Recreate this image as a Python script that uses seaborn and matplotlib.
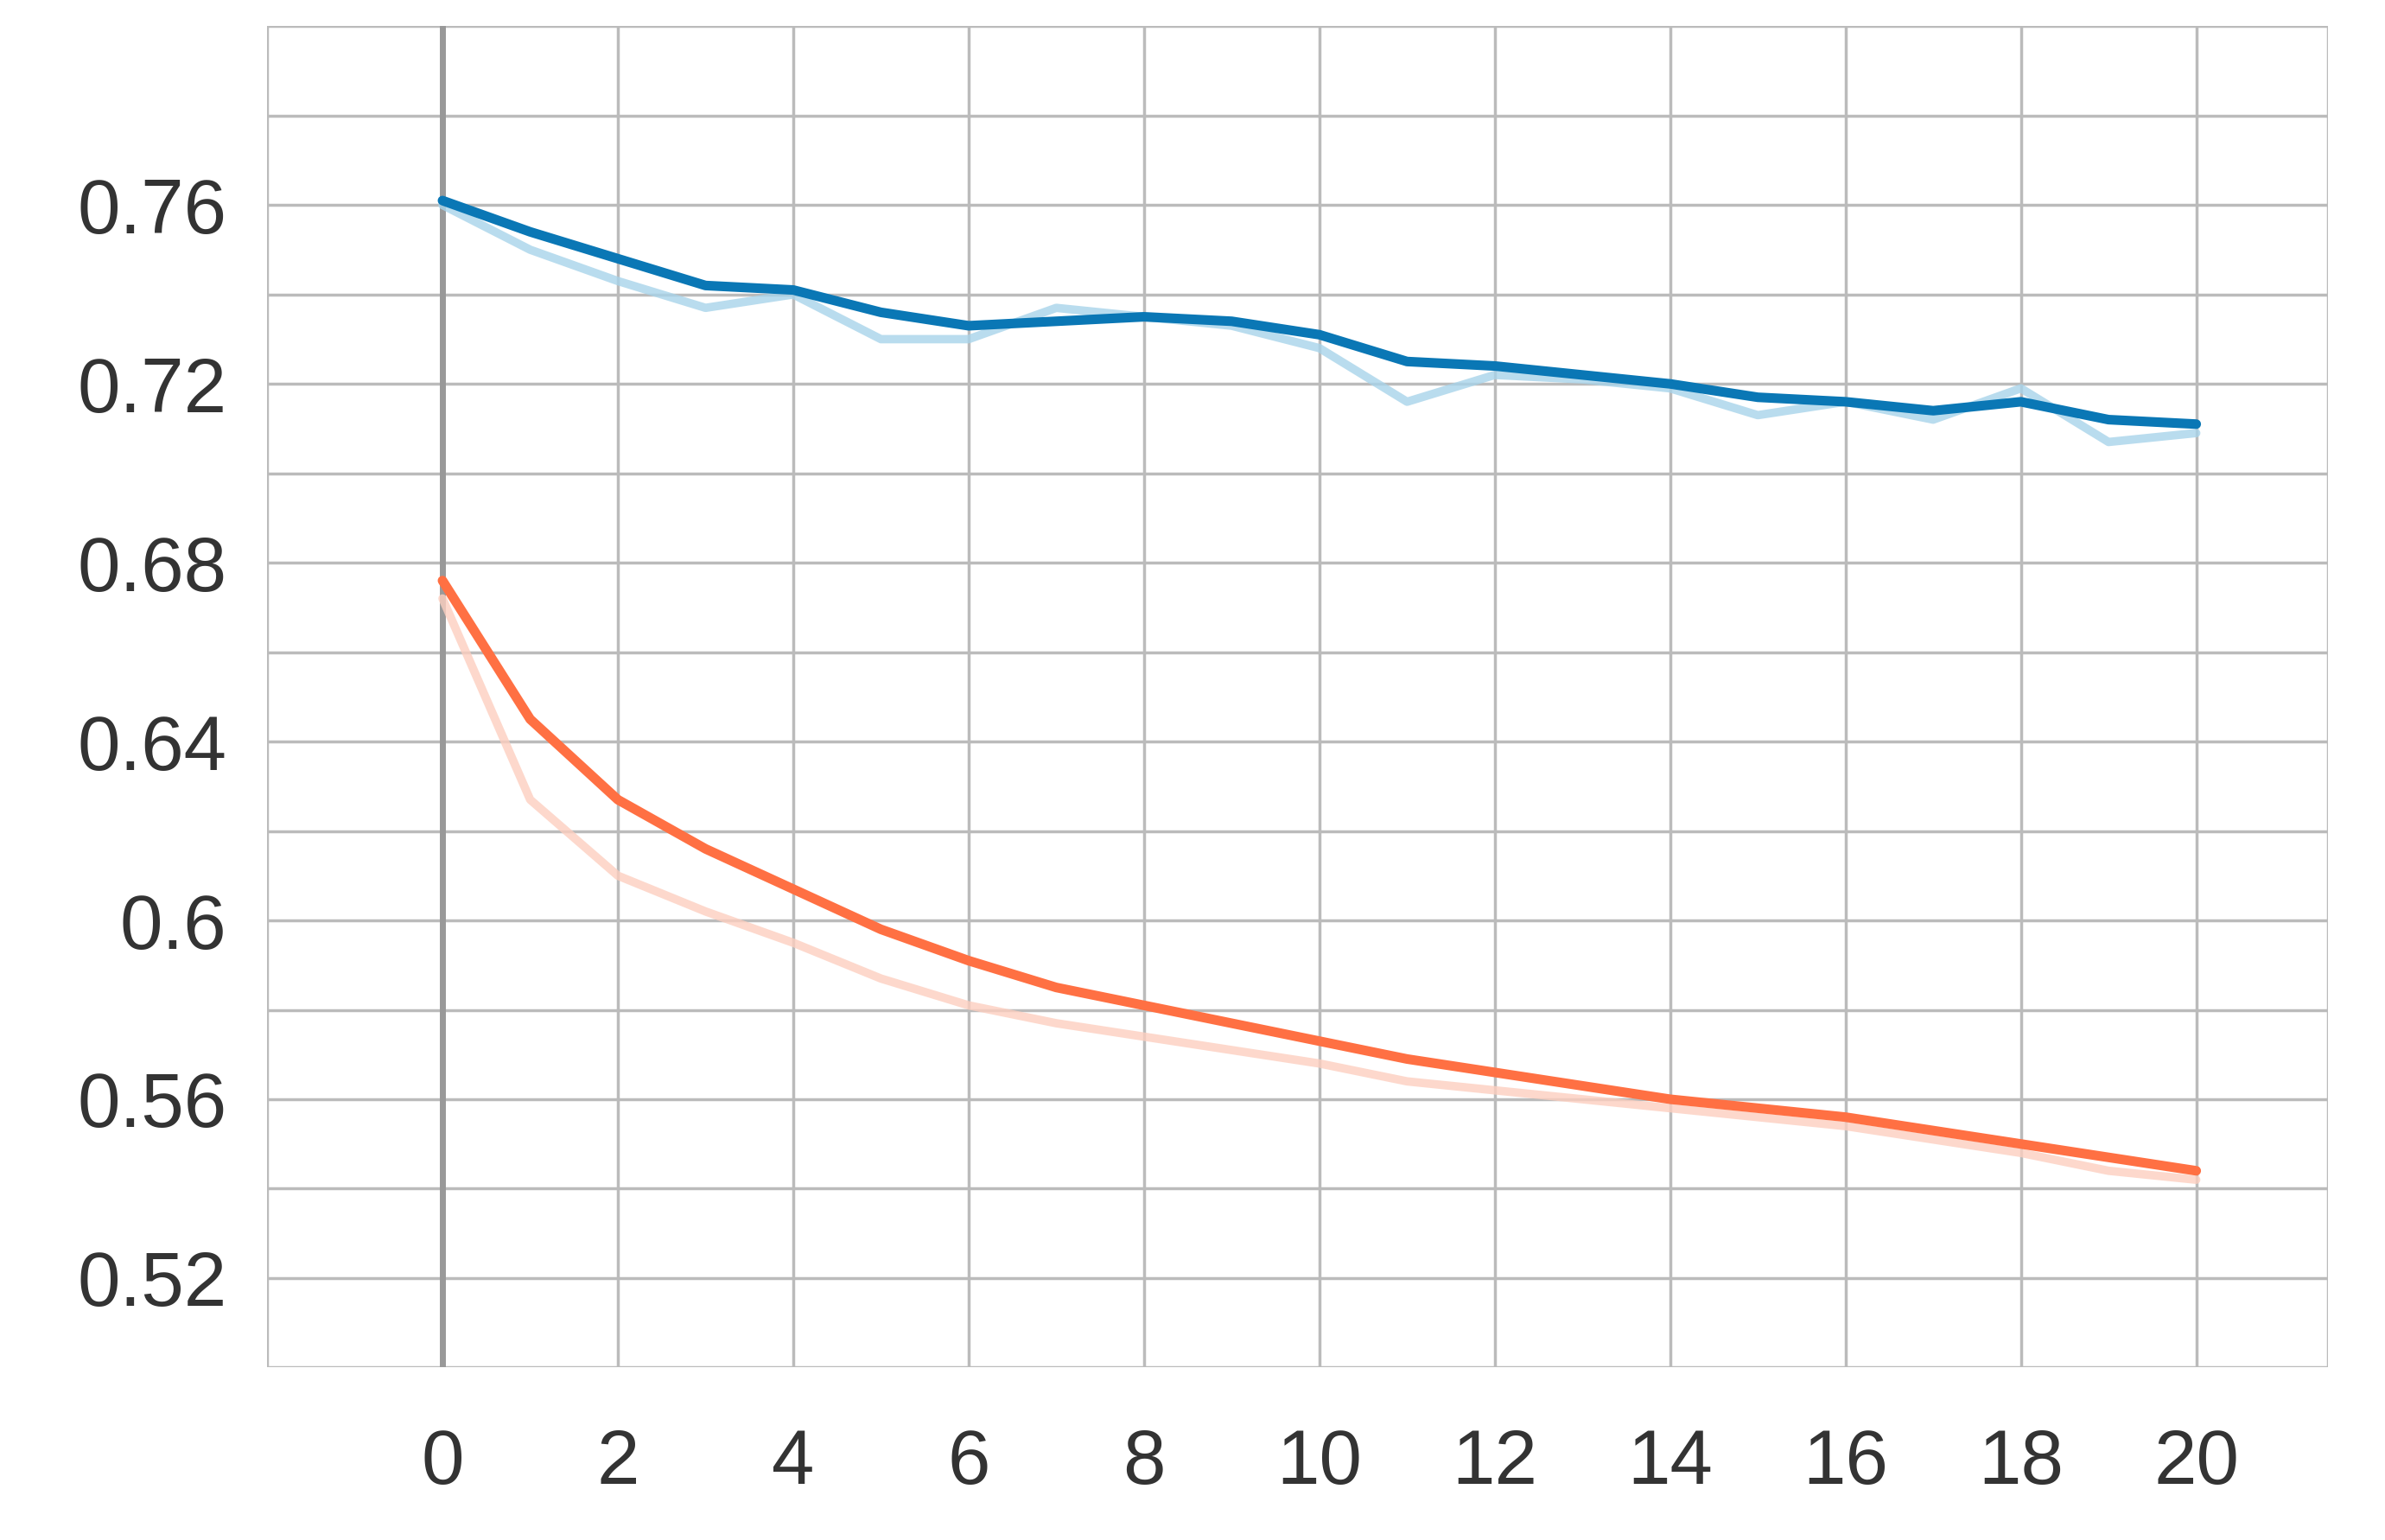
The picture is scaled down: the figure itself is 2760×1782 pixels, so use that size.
import numpy as np
import pandas as pd
import matplotlib
matplotlib.use("Agg")
import matplotlib.pyplot as plt
import seaborn as sns

# values
steps = list(range(21))
blue_smooth = [0.761, 0.754, 0.748, 0.742, 0.741, 0.736, 0.733, 0.734, 0.735, 0.734, 0.731,
               0.725, 0.724, 0.722, 0.720, 0.717, 0.716, 0.714, 0.716, 0.712, 0.711]
blue_raw = [0.760, 0.750, 0.743, 0.737, 0.740, 0.730, 0.730, 0.737, 0.735, 0.733, 0.728,
            0.716, 0.722, 0.721, 0.719, 0.713, 0.716, 0.712, 0.719, 0.707, 0.709]
orange_smooth = [0.676, 0.645, 0.627, 0.616, 0.607, 0.598, 0.591, 0.585, 0.581, 0.577, 0.573,
                 0.569, 0.566, 0.563, 0.560, 0.558, 0.556, 0.553, 0.550, 0.547, 0.544]
orange_raw = [0.672, 0.627, 0.610, 0.602, 0.595, 0.587, 0.581, 0.577, 0.574, 0.571, 0.568,
              0.564, 0.562, 0.560, 0.558, 0.556, 0.554, 0.551, 0.548, 0.544, 0.542]
x_ticks = list(range(0, 21, 2))
y_ticks = [0.52, 0.56, 0.6, 0.64, 0.68, 0.72, 0.76]
y_tick_labels = ["0.52", "0.56", "0.6", "0.64", "0.68", "0.72", "0.76"]

sns.set_style("white")
plt.rcParams['font.family'] = ['Liberation Sans', 'DejaVu Sans']

fig = plt.figure(figsize=(27.6, 17.82), dpi=100)
ax = fig.add_axes([0.112, 0.112, 0.864, 0.871])

df = pd.DataFrame({"step": steps, "br": blue_raw, "bs": blue_smooth,
                   "or": orange_raw, "os": orange_smooth})
sns.lineplot(data=df, x="step", y="br", ax=ax, color="#a8d4ea", lw=7, alpha=0.8)
sns.lineplot(data=df, x="step", y="or", ax=ax, color="#fdcfc0", lw=7, alpha=0.8)
sns.lineplot(data=df, x="step", y="bs", ax=ax, color="#0a77b5", lw=8)
sns.lineplot(data=df, x="step", y="os", ax=ax, color="#ff7043", lw=8)

ax.set_xlim(-2, 21.5)
ax.set_ylim(0.50, 0.80)
ax.set_xticks(x_ticks)
ax.set_xticks([-2, 21.5], minor=True)
ax.set_yticks(y_ticks)
ax.set_yticklabels(y_tick_labels)
ax.set_yticks(np.arange(0.50, 0.801, 0.02), minor=True)
ax.grid(True, which="both", color="#bbbbbb", lw=2.5)
ax.set_axisbelow(True)
ax.axvline(0, color="#999999", lw=5, zorder=1)
ax.tick_params(axis="both", which="both", length=30, width=2.5, color="#bbbbbb",
               labelsize=64, labelcolor="#333333")
ax.tick_params(axis="x", which="major", pad=20)
for s in ax.spines.values():
    s.set_visible(False)
ax.set_xlabel("")
ax.set_ylabel("")

fig.savefig("out.png", dpi=100)
